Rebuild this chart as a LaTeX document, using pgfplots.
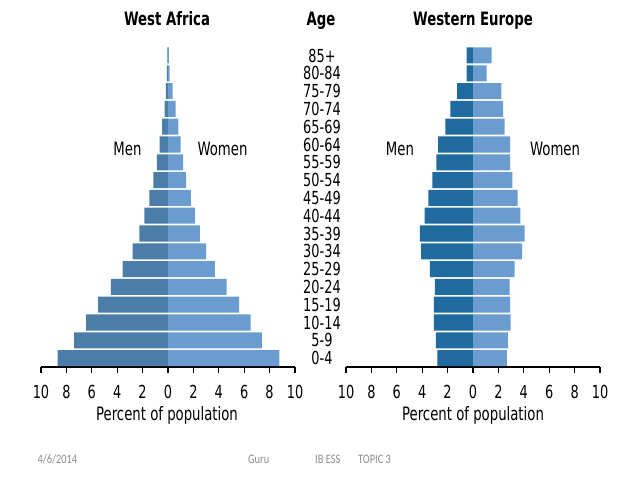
\documentclass[border=0pt]{standalone}
\usepackage{pgfplots}
\pgfplotsset{compat=1.18}
\usepackage{pgfplotstable}
\usepackage{fontspec}
\setmainfont[FakeStretch=0.72]{DejaVu Sans}
\newfontfamily\footfont[FakeStretch=0.8]{Carlito}
\definecolor{waMen}{HTML}{4A7EA8}
\definecolor{waWomen}{HTML}{6A9CD0}
\definecolor{weMen}{HTML}{1F6B9F}
\definecolor{weWomen}{HTML}{6A9CD0}
\definecolor{footgray}{HTML}{8C8C8C}
\pgfplotstableread{
idx men women
0 8.70 8.77
1 7.40 7.40
2 6.45 6.50
3 5.50 5.60
4 4.50 4.62
5 3.57 3.70
6 2.78 3.00
7 2.26 2.50
8 1.87 2.13
9 1.47 1.81
10 1.15 1.42
11 0.87 1.20
12 0.66 1.00
13 0.47 0.81
14 0.26 0.60
15 0.16 0.37
16 0.08 0.12
17 0.05 0.07
}\westafrica
\pgfplotstableread{
idx men women
0 2.80 2.67
1 2.93 2.75
2 3.09 2.96
3 3.09 2.93
4 3.01 2.88
5 3.40 3.27
6 4.08 3.87
7 4.19 4.06
8 3.80 3.72
9 3.51 3.51
10 3.19 3.09
11 2.88 2.93
12 2.75 2.93
13 2.17 2.49
14 1.78 2.38
15 1.26 2.23
16 0.50 1.07
17 0.50 1.47
}\westeurope
\pgfplotsset{
  pyr/.style={
    scale only axis, width=254bp, height=320.4bp,
    xmin=-10, xmax=10, ymin=-0.5, ymax=17.5,
    axis lines*=left,
    y axis line style={draw=none},
    x axis line style={line width=2.6bp, black},
    xtick={-10,-8,...,10},
    xticklabels={10,8,6,4,2,0,2,4,6,8,10},
    tick align=outside,
    major tick length=6bp,
    xtick style={line width=1.3bp, black},
    ytick style={draw=none},
    xticklabel style={font=\fontsize{18}{18}\selectfont, anchor=base, yshift=-26bp},
    xbar, bar width=0.9,
    every axis plot/.append style={bar shift=0pt, draw=none},
    clip=false,
  }
}
\begin{document}
\begin{tikzpicture}[x=1bp,y=1bp]
\path[use as bounding box] (0,0) rectangle (638,479);
\coordinate (LA) at (41,112);
\coordinate (RA) at (346,112);
\begin{axis}[pyr, at={(LA)}, anchor=south west, ytick=\empty]
\addplot[fill=waMen] table[x expr=-\thisrow{men}, y=idx] {\westafrica};
\addplot[fill=waWomen] table[x=women, y=idx] {\westafrica};
\end{axis}
\begin{axis}[pyr, at={(RA)}, anchor=south west,
  ytick={0,...,17},
  yticklabels={0-4,5-9,10-14,15-19,20-24,25-29,30-34,35-39,40-44,45-49,50-54,55-59,60-64,65-69,70-74,75-79,80-84,85+},
  yticklabel style={font=\fontsize{18}{18}\selectfont, anchor=center, xshift=-18bp}]
\addplot[fill=weMen] table[x expr=-\thisrow{men}, y=idx] {\westeurope};
\addplot[fill=weWomen] table[x=women, y=idx] {\westeurope};
\end{axis}
\begin{scope}[every node/.style={inner sep=0pt}]
\node[anchor=base, font=\fontsize{18.5}{18.5}\selectfont\bfseries] at (167,453) {West Africa};
\node[anchor=base, font=\fontsize{18.5}{18.5}\selectfont\bfseries] at (321,453) {Age};
\node[anchor=base, font=\fontsize{18.5}{18.5}\selectfont\bfseries] at (473,453) {Western Europe};
\node[anchor=base, font=\fontsize{18.5}{18.5}\selectfont] at (127.5,323) {Men};
\node[anchor=base, font=\fontsize{18.5}{18.5}\selectfont] at (222.5,323) {Women};
\node[anchor=base, font=\fontsize{18.5}{18.5}\selectfont] at (400,323) {Men};
\node[anchor=base, font=\fontsize{18.5}{18.5}\selectfont] at (555,323) {Women};
\node[anchor=base, font=\fontsize{18.5}{18.5}\selectfont] at (167,58) {Percent of population};
\node[anchor=base, font=\fontsize{18.5}{18.5}\selectfont] at (473,58) {Percent of population};
\node[anchor=base west, font=\footfont\fontsize{13}{13}\selectfont, text=footgray] at (37.5,15) {4/6/2014};
\node[anchor=base west, font=\footfont\fontsize{13}{13}\selectfont, text=footgray] at (248,15) {Guru};
\node[anchor=base west, font=\footfont\fontsize{13}{13}\selectfont, text=footgray] at (315,15) {IB ESS};
\node[anchor=base west, font=\footfont\fontsize{13}{13}\selectfont, text=footgray] at (358,15) {TOPIC 3};
\end{scope}
\end{tikzpicture}
\end{document}
